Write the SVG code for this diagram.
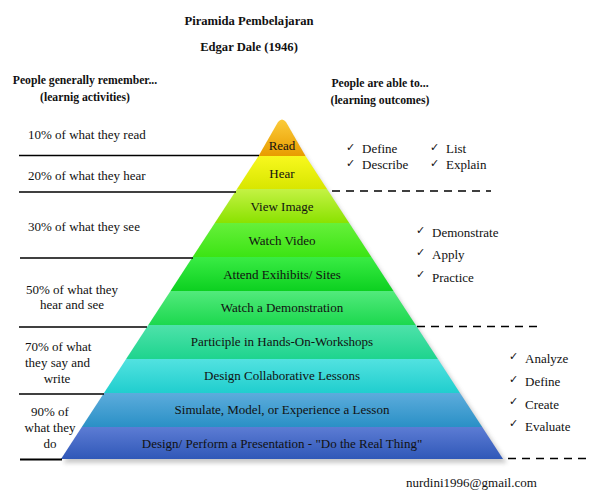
<svg xmlns="http://www.w3.org/2000/svg" width="591" height="499" viewBox="0 0 591 499" font-family="'Liberation Serif', 'Times New Roman', 'DejaVu Serif', serif">
<defs>
<style>
text{font-family:'Liberation Serif','Times New Roman','DejaVu Serif',serif;fill:#111;font-size:13px}
.b{font-weight:bold;font-size:11.7px}
.h{font-weight:bold;font-size:12.6px}
.t{text-anchor:middle}
.m{text-anchor:middle}
.ck{font-size:11px}
.ln{stroke:#000;stroke-width:1.3;fill:none}
.dash{stroke:#000;stroke-width:1.6;stroke-dasharray:8,6;fill:none}
</style>
<linearGradient id="g1" x1="0" y1="0" x2="0" y2="1"><stop offset="0" stop-color="#fbcb3a"/><stop offset="1" stop-color="#e89c00"/></linearGradient>
<linearGradient id="g2" x1="0" y1="0" x2="0" y2="1"><stop offset="0" stop-color="#f8f81e"/><stop offset="1" stop-color="#d8e600"/></linearGradient>
<linearGradient id="g3" x1="0" y1="0" x2="0" y2="1"><stop offset="0" stop-color="#c4f244"/><stop offset="1" stop-color="#8ae200"/></linearGradient>
<linearGradient id="g4" x1="0" y1="0" x2="0" y2="1"><stop offset="0" stop-color="#66f03a"/><stop offset="1" stop-color="#3ce414"/></linearGradient>
<linearGradient id="g5" x1="0" y1="0" x2="0" y2="1"><stop offset="0" stop-color="#3aec44"/><stop offset="1" stop-color="#0cd020"/></linearGradient>
<linearGradient id="g6" x1="0" y1="0" x2="0" y2="1"><stop offset="0" stop-color="#52ea7c"/><stop offset="1" stop-color="#1cd84e"/></linearGradient>
<linearGradient id="g7" x1="0" y1="0" x2="0" y2="1"><stop offset="0" stop-color="#4ee2aa"/><stop offset="1" stop-color="#1ed48e"/></linearGradient>
<linearGradient id="g8" x1="0" y1="0" x2="0" y2="1"><stop offset="0" stop-color="#52e2e0"/><stop offset="1" stop-color="#20cece"/></linearGradient>
<linearGradient id="g9" x1="0" y1="0" x2="0" y2="1"><stop offset="0" stop-color="#5cacdc"/><stop offset="1" stop-color="#2a90c6"/></linearGradient>
<linearGradient id="g10" x1="0" y1="0" x2="0" y2="1"><stop offset="0" stop-color="#5c7cd4"/><stop offset="1" stop-color="#3058b8"/></linearGradient>
<filter id="sh" x="-10%" y="-10%" width="120%" height="130%"><feGaussianBlur stdDeviation="2"/></filter>
</defs>
<rect width="591" height="499" fill="#fff"/>

<g id="titles">
<text class="h t" x="249" y="25">Piramida Pembelajaran</text>
<text class="h t" x="249" y="51">Edgar Dale (1946)</text>
<text class="b t" x="85" y="84">People generally remember...</text>
<text class="b t" x="85" y="101">(learnig activities)</text>
<text class="b t" x="380" y="87">People are able to...</text>
<text class="b t" x="380" y="104">(learning outcomes)</text>
</g>

<polygon points="282,122 505,461 61,461" fill="#888" opacity="0.45" filter="url(#sh)" transform="translate(2,2)"/>

<g id="tier-read"><path d="M278,122 Q282,117 286,122 L305.5,156 L258.5,156 Z" fill="url(#g1)"/><text class="m" x="282" y="150">Read</text></g>
<g id="tier-hear"><polygon points="258.5,156 305.5,156 327,189 237,189" fill="url(#g2)"/><text class="m" x="282" y="178">Hear</text></g>
<g id="tier-view"><polygon points="237,189 327,189 349.2,223 214.8,223" fill="url(#g3)"/><text class="m" x="282" y="211">View Image</text></g>
<g id="tier-video"><polygon points="214.8,223 349.2,223 371.4,257 192.6,257" fill="url(#g4)"/><text class="m" x="282" y="245">Watch Video</text></g>
<g id="tier-attend"><polygon points="192.6,257 371.4,257 393.5,291 170.5,291" fill="url(#g5)"/><text class="m" x="282" y="279">Attend Exihibits/ Sites</text></g>
<g id="tier-demo"><polygon points="170.5,291 393.5,291 415.7,325 148.3,325" fill="url(#g6)"/><text class="m" x="282" y="312">Watch a Demonstration</text></g>
<g id="tier-workshop"><polygon points="148.3,325 415.7,325 437.9,359 126.1,359" fill="url(#g7)"/><text class="m" x="282" y="346">Participle in Hands-On-Workshops</text></g>
<g id="tier-collab"><polygon points="126.1,359 437.9,359 460,393 104,393" fill="url(#g8)"/><text class="m" x="282" y="380">Design Collaborative Lessons</text></g>
<g id="tier-simulate"><polygon points="104,393 460,393 482.2,427 81.8,427" fill="url(#g9)"/><text class="m" x="282" y="414">Simulate, Model, or Experience a Lesson</text></g>
<g id="tier-perform"><polygon points="81.8,427 482.2,427 503,459 61,459" fill="url(#g10)"/><text class="m" x="282" y="448">Design/ Perform a Presentation - "Do the Real Thing"</text></g>

<g id="connectors">
<path class="ln" d="M19,155.5 H259"/>
<path class="ln" d="M19,192 H236"/>
<path class="ln" d="M20,258 H193"/>
<path class="ln" d="M19,327 H147"/>
<path class="ln" d="M19,394 H104"/>
<path class="ln" d="M20,459.5 H62" style="stroke-width:2"/>
<path class="dash" d="M332,191 H491"/>
<path class="dash" d="M417,326.5 H543"/>
<path class="dash" d="M508,458.5 H590"/>
</g>

<g id="left-labels">
<text x="28" y="139">10% of what they read</text>
<text x="28" y="180">20% of what they hear</text>
<text x="28" y="231">30% of what they see</text>
<text class="m" x="72" y="294">50% of what they</text>
<text class="m" x="72" y="309">hear and see</text>
<text x="25" y="351">70% of what</text>
<text x="25" y="367">they say and</text>
<text class="m" x="57" y="383">write</text>
<text class="m" x="50" y="416">90% of</text>
<text class="m" x="50" y="432">what they</text>
<text class="m" x="50" y="448">do</text>
</g>

<g id="right-labels">
<text class="ck" x="346" y="151">✓</text><text x="362" y="153">Define</text>
<text class="ck" x="346" y="167">✓</text><text x="362" y="169">Describe</text>
<text class="ck" x="430" y="151">✓</text><text x="446" y="153">List</text>
<text class="ck" x="430" y="167">✓</text><text x="446" y="169">Explain</text>
<text class="ck" x="416" y="234">✓</text><text x="432" y="237">Demonstrate</text>
<text class="ck" x="416" y="256">✓</text><text x="432" y="259">Apply</text>
<text class="ck" x="416" y="278">✓</text><text x="432" y="282">Practice</text>
<text class="ck" x="509" y="360">✓</text><text x="525" y="363">Analyze</text>
<text class="ck" x="509" y="383">✓</text><text x="525" y="386">Define</text>
<text class="ck" x="509" y="405">✓</text><text x="525" y="409">Create</text>
<text class="ck" x="509" y="427">✓</text><text x="525" y="431">Evaluate</text>
<text x="406" y="487">nurdini1996@gmail.com</text>
</g>
</svg>
